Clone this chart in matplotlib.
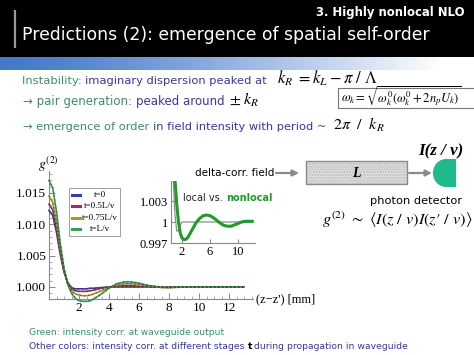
import numpy as np
import matplotlib
matplotlib.use("Agg")
import matplotlib.pyplot as plt
from matplotlib.patches import Rectangle, Polygon
from matplotlib.lines import Line2D

plt.rcParams["mathtext.fontset"] = "stix"

# ---------------- data ----------------
sep = [0, 0.25, 0.5, 0.75, 1.0, 1.25, 1.5, 1.75, 2.0, 2.25, 2.5, 2.75, 3.0,
       3.5, 4.0, 4.5, 5.0, 5.5, 6.0, 6.5, 7.0, 7.5, 8.0, 9.0, 10.0, 11.0, 12.0, 13.0]
g_t0 = [1.0122, 1.0114, 1.0087, 1.0052, 1.0024, 1.0007, 0.9999, 0.9997, 0.9997, 0.9997,
        0.9997, 0.9998, 0.9998, 0.9999, 1.0000, 1.0000, 1.0000, 1.0000, 1.0000, 1.0000,
        1.0000, 1.0000, 1.0000, 1.0000, 1.0000, 1.0000, 1.0000, 1.0000]
g_t05 = [1.0132, 1.0123, 1.0094, 1.0056, 1.0025, 1.0006, 0.9997, 0.9994, 0.9993, 0.9993,
         0.9993, 0.9994, 0.9995, 0.9998, 1.0000, 1.0001, 1.0002, 1.0002, 1.0001, 1.0001,
         1.0000, 1.0000, 1.0000, 1.0000, 1.0000, 1.0000, 1.0000, 1.0000]
g_t075 = [1.0145, 1.0135, 1.0103, 1.0061, 1.0027, 1.0005, 0.9994, 0.9989, 0.9987, 0.9986,
          0.9986, 0.9987, 0.9989, 0.9994, 0.9999, 1.0003, 1.0005, 1.0005, 1.0004, 1.0002,
          1.0001, 1.0000, 0.9999, 1.0000, 1.0000, 1.0000, 1.0000, 1.0000]
g_t1 = [1.0170, 1.0158, 1.0120, 1.0070, 1.0030, 1.0004, 0.9990, 0.9982, 0.9978, 0.9977,
        0.9977, 0.9978, 0.9981, 0.9989, 0.9998, 1.0005, 1.0008, 1.0008, 1.0006, 1.0003,
        1.0001, 0.9999, 0.9999, 1.0000, 1.0000, 1.0000, 1.0000, 1.0000]
series_labels = ["t=0", "t=0.5L/v", "t=0.75L/v", "t=L/v"]
series_colors = ["#3c3c9c", "#9c2f62", "#a8982a", "#3c9c50"]

inset_sep = [0.5, 0.75, 1.0, 1.25, 1.5, 1.75, 2.0, 2.25, 2.5, 2.75, 3.0, 3.5, 4.0, 4.5,
             5.0, 5.5, 6.0, 6.5, 7.0, 7.5, 8.0, 8.5, 9.0, 9.5, 10.0, 10.5, 11.0, 11.5, 12.0]
g_nonlocal = [1.0150, 1.0105, 1.0060, 1.0025, 1.0000, 0.9984, 0.9977, 0.9975, 0.9975,
              0.9977, 0.9981, 0.9990, 0.9999, 1.0005, 1.0009, 1.0010, 1.0009, 1.0006,
              1.0002, 0.9998, 0.9995, 0.9994, 0.9994, 0.9996, 0.9998, 1.0000, 1.0001,
              1.0001, 1.0001]
g_local = [1.0120, 1.0060, 1.0010, 0.9987, 0.9988, 0.9996, 1.0000, 1.0000, 1.0000,
           1.0000, 1.0000, 1.0000, 1.0000, 1.0000, 1.0000, 1.0000, 1.0000, 1.0000,
           1.0000, 1.0000, 1.0000, 1.0000, 1.0000, 1.0000, 1.0000, 1.0000, 1.0000,
           1.0000, 1.0000]

main_xticks = [2, 4, 6, 8, 10, 12]
main_yticks = [1.000, 1.005, 1.010, 1.015]
main_yticklabels = ["1.000", "1.005", "1.010", "1.015"]
inset_xticks = [2, 6, 10]
inset_yticks = [0.997, 1.0, 1.003]
inset_yticklabels = ["0.997", "1", "1.003"]

# ---------------- figure ----------------
W, H = 474, 355
fig = plt.figure(figsize=(W / 100, H / 100), dpi=100)
fig.patch.set_facecolor("white")
ov = fig.add_axes([0, 0, 1, 1])
ov.set_xlim(0, W)
ov.set_ylim(H, 0)
ov.axis("off")
R = fig.canvas.get_renderer()

GREEN_T = "#3d8d6a"
NAVY_T = "#38389a"
SANS = "DejaVu Sans"
SERIF = "Liberation Serif"

# header
ov.add_patch(Rectangle((0, 0), W, 57, color="black", zorder=0))
g = np.linspace(0, 1, 400)
c0 = np.array([70, 120, 200]) / 255.0
c1 = np.array([255, 255, 255]) / 255.0
frac = np.clip(g / 0.93, 0, 1) ** 1.3
grad = c0[None, :] * (1 - frac[:, None]) + c1[None, :] * frac[:, None]
ov.imshow(grad[None, :, :], extent=[0, W, 70, 57], aspect="auto", zorder=0)
ov.set_xlim(0, W)
ov.set_ylim(H, 0)
ov.plot([15, 15], [10, 48], color="#9a9a9a", lw=1.6, solid_capstyle="butt")


def fit(t, width):
    bb = t.get_window_extent(R)
    t.set_fontsize(t.get_fontsize() * width / bb.width)
    return t


def textw(s, size, **kw):
    t = ov.text(0, 0, s + ".", fontsize=size, **kw)
    w1 = t.get_window_extent(R).width
    t.set_text(".")
    w2 = t.get_window_extent(R).width
    t.remove()
    return w1 - w2


def rich(x, y, parts, width, size=9, family=SANS):
    full = "".join(s for s, kw in parts)
    size = size * width / textw(full, size, family=family)
    prefix = ""
    for s, kw in parts:
        xx = x + (textw(prefix, size, family=family) if prefix else 0)
        ov.text(xx, y, s, fontsize=size, family=family, va="baseline", ha="left", **kw)
        prefix += s


def math(x, y, s, size=11.5):
    ov.text(x, y, s, fontsize=size, va="baseline", ha="left", color="black")


t = ov.text(465, 16, "3. Highly nonlocal NLO", color="white", fontsize=9,
            fontweight="bold", ha="right", va="baseline", family=SANS)
fit(t, 148)
t = ov.text(22, 40, "Predictions (2): emergence of spatial self-order", color="white",
            fontsize=14, ha="left", va="baseline", family=SANS)
fit(t, 408)

# body lines
rich(22, 84, [("Instability: ", dict(color=GREEN_T)),
              ("imaginary dispersion peaked at", dict(color=NAVY_T))], 245)
math(277, 84, r"$k_R\ =k_L-\pi\ /\ \Lambda$", size=12)
rich(23, 105, [("\u2192 pair generation: ", dict(color=GREEN_T)),
               ("peaked around", dict(color=NAVY_T))], 201)
math(229, 105, r"$\pm\ k_R$")
rich(23, 130, [("\u2192 emergence of order ", dict(color=GREEN_T)),
               ("in field intensity with period ~", dict(color=NAVY_T))], 302)
math(333, 130, r"$2\pi\ \ /\ \ k_R$")

ov.add_patch(Rectangle((338, 88), 140, 20, fill=False, edgecolor="#777777", lw=0.8))
ov.text(341, 102.5, r"$\omega_k=\sqrt{\omega_k^0(\omega_k^0+2n_pU_k)}$", fontsize=9,
        color="black", ha="left", va="baseline")

# diagram
t = ov.text(195, 173, "delta-corr. field", fontsize=7.5, family=SANS, va="center", ha="left")
fit(t, 79)
arrow_kw = dict(arrowstyle="-|>", color="#8a8a8a", lw=1.6, mutation_scale=9,
                shrinkA=0, shrinkB=0)
ov.annotate("", xy=(299, 173), xytext=(276, 173), arrowprops=arrow_kw)
ov.add_patch(Rectangle((306, 161), 101, 23, facecolor="#dedede", edgecolor="#bdbdbd",
                       hatch="......", lw=0))
ov.add_patch(Rectangle((306, 161), 101, 23, fill=False, edgecolor="#8a8a8a", lw=1.0))
ov.text(356, 173.5, "L", fontsize=10, family=SERIF, style="italic", fontweight="bold",
        ha="center", va="center")
ov.annotate("", xy=(432, 173), xytext=(409, 173), arrowprops=arrow_kw)
th = np.linspace(np.pi / 2, 3 * np.pi / 2, 40)
pts = [(456, 159)] + [(446 + 13 * np.cos(a), 173 - 14 * np.sin(a)) for a in th] + [(456, 187)]
ov.add_patch(Polygon(pts, closed=True, facecolor="#1fb98c", edgecolor="none"))
t = ov.text(418, 155, "I(z / v)", fontsize=9, family=SERIF, style="italic",
            fontweight="bold", ha="left", va="baseline")
fit(t, 45)
t = ov.text(370, 204, "photon detector", fontsize=8, family=SANS, ha="left", va="baseline")
fit(t, 92)
t = ov.text(322, 225, r"$g^{(2)}\ \sim\ \langle I(z\ /\ v)I(z\prime\ /\ v)\rangle$",
            fontsize=9, ha="left", va="baseline")
fit(t, 151)

# footer
rich(29, 335, [("Green: intensity corr. at waveguide output", dict(color=GREEN_T))], 195, size=7)
rich(29, 349, [("Other colors: intensity corr. at different stages ", dict(color=NAVY_T)),
               ("t", dict(color="black", fontweight="bold")),
               (" during propagation in waveguide", dict(color=NAVY_T))], 377, size=7)

# ---------------- main plot ----------------
ax = fig.add_axes([49 / W, 1 - 299 / H, (253 - 49) / W, (299 - 171) / H])
ax.patch.set_alpha(0)
ax.set_xlim(0, 13.6)
ax.set_ylim(0.99808, 1.0185)
for ys, col in zip([g_t0, g_t05, g_t075, g_t1], series_colors):
    ax.plot(sep, ys, color=col, lw=1.2, clip_on=False, zorder=3)
    ax.plot(sep, ys, color="#2a2a2a", lw=0.9, ls=(0, (1, 2.2)), alpha=0.55,
            clip_on=False, zorder=4)
for s in ["top", "right"]:
    ax.spines[s].set_visible(False)
for s in ["left", "bottom"]:
    ax.spines[s].set_color("#8a8a8a")
    ax.spines[s].set_linewidth(0.8)
ax.set_xticks(main_xticks)
ax.set_xticks(np.arange(0.5, 13.6, 0.5), minor=True)
ax.set_yticks(main_yticks)
ax.set_yticklabels(main_yticklabels)
ax.set_yticks(np.arange(0.999, 1.0185, 0.001), minor=True)
ax.tick_params(which="both", direction="in", color="#8a8a8a", labelsize=9.5,
               pad=2)
ax.tick_params(which="major", length=4, width=0.7)
ax.tick_params(which="minor", length=2, width=0.5)
for lab in ax.get_xticklabels() + ax.get_yticklabels():
    lab.set_family(SERIF)
ov.text(38, 169, r"$g^{(2)}$", fontsize=10, ha="left", va="baseline")
ov.text(256, 302, "(z\u2212z') [mm]", fontsize=9, family=SERIF, ha="left", va="baseline")

# legend (manual box)
ov.add_patch(Rectangle((69, 188), 51, 48, facecolor="white", edgecolor="#a0a0a0",
                       lw=0.7, zorder=5))
for i, (lab, col) in enumerate(zip(series_labels, series_colors)):
    yy = 195 + i * 11.3
    ov.add_line(Line2D([72, 80], [yy, yy], color=col, lw=2.2, zorder=6))
    ov.text(100, yy, lab, fontsize=6.5, family=SERIF, ha="center", va="center", zorder=6)

# ---------------- inset ----------------
ia = fig.add_axes([171 / W, 1 - 243 / H, (255 - 171) / W, (243 - 181) / H])
ia.patch.set_alpha(0)
ia.set_xlim(0.43, 12.4)
ia.set_ylim(0.99715, 1.00586)
ia.plot(inset_sep, g_local, color="#8c8c8c", lw=0.9)
ia.plot(inset_sep, g_nonlocal, color="#1c9c28", lw=2.2)
for s in ["top", "right"]:
    ia.spines[s].set_visible(False)
for s in ["left", "bottom"]:
    ia.spines[s].set_color("#8a8a8a")
    ia.spines[s].set_linewidth(0.8)
ia.set_xticks(inset_xticks)
ia.set_yticks(inset_yticks)
ia.set_yticklabels(inset_yticklabels)
ia.tick_params(direction="in", color="#8a8a8a", labelsize=9, length=3, pad=2)
for lab in ia.get_xticklabels() + ia.get_yticklabels():
    lab.set_family(SERIF)
rich(183, 201, [("local vs. ", dict(color="#222222")),
                ("nonlocal", dict(color="#1c9c28", fontweight="bold"))], 85, size=7.5)

fig.savefig("out.png", dpi=100)
